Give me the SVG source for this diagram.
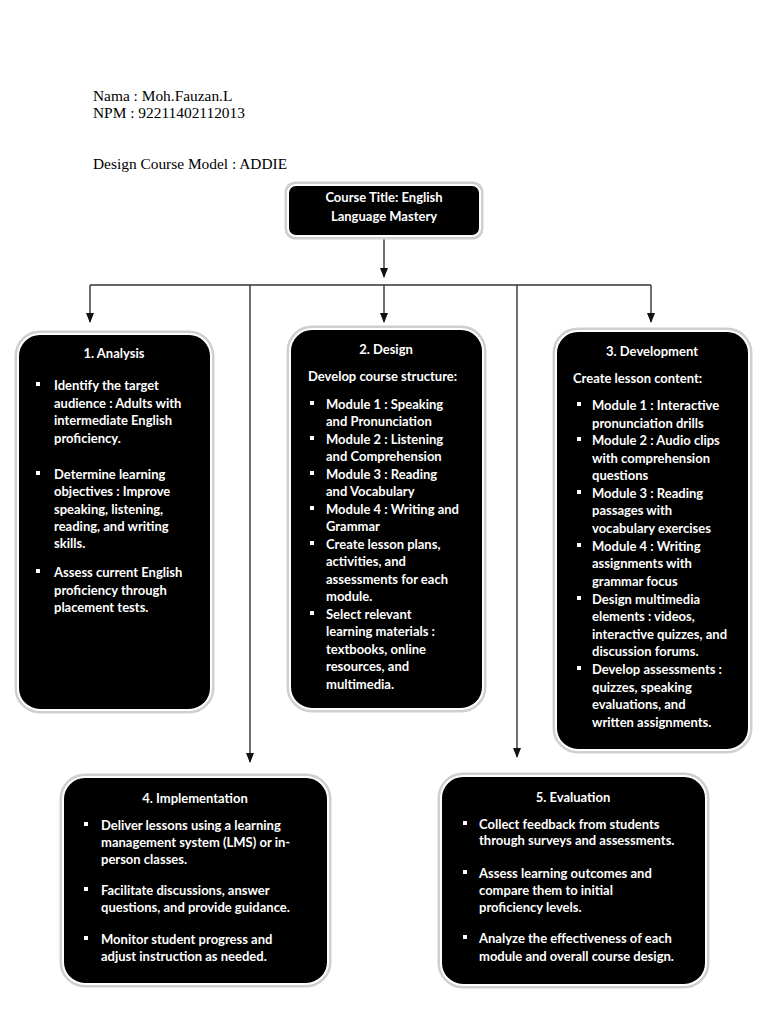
<svg xmlns="http://www.w3.org/2000/svg" width="768" height="1024" viewBox="0 0 768 1024">
<style>
.hdr{font-family:"Liberation Serif",serif;font-size:15.4px;fill:#000}
.box{fill:#000;stroke:#fff;stroke-width:2}
.sh{fill:none;stroke:#cfcfcf;stroke-width:3}
.t{font-family:Lato,"Open Sans",sans-serif;font-weight:bold;font-size:13px;fill:#fff}
.c{text-anchor:middle}
.b{fill:#fff}
.ln{stroke:#333;stroke-width:1.4;fill:none}
.ah{fill:#111}
</style>
<rect width="768" height="1024" fill="#fff"/>
<g id="header">
<text class="hdr" x="93" y="101">Nama : Moh.Fauzan.L</text>
<text class="hdr" x="93" y="118">NPM : 92211402112013</text>
<text class="hdr" x="93" y="169">Design Course Model : ADDIE</text>
</g>
<g id="connectors">
<line class="ln" x1="384" y1="236" x2="384" y2="277"/>
<path class="ah" d="M380,268 L388,268 L384,278 Z"/>
<line class="ln" x1="90" y1="285" x2="651" y2="285"/>
<line class="ln" x1="90" y1="285" x2="90" y2="322"/>
<path class="ah" d="M86,313 L94,313 L90,323 Z"/>
<line class="ln" x1="384" y1="285" x2="384" y2="322"/>
<path class="ah" d="M380,313 L388,313 L384,323 Z"/>
<line class="ln" x1="651" y1="285" x2="651" y2="322"/>
<path class="ah" d="M647,313 L655,313 L651,323 Z"/>
<line class="ln" x1="250" y1="285" x2="250" y2="762"/>
<path class="ah" d="M246,753 L254,753 L250,763 Z"/>
<line class="ln" x1="517" y1="285" x2="517" y2="757"/>
<path class="ah" d="M513,748 L521,748 L517,758 Z"/>
</g>
<g id="title">
<rect class="sh" x="286" y="183" width="196" height="55" rx="9"/>
<rect class="box" x="288" y="185" width="192" height="51" rx="8"/>
<text class="t c" x="384" y="202">Course Title: English</text>
<text class="t c" x="384" y="221">Language Mastery</text>
</g>
<g id="analysis">
<rect class="sh" x="16" y="332" width="197" height="380" rx="24"/>
<rect class="box" x="18" y="334" width="193" height="376" rx="22"/>
<text class="t c" x="114" y="358">1. Analysis</text>
<rect class="b" x="36" y="382" width="4" height="4"/>
<rect class="b" x="36" y="471" width="4" height="4"/>
<rect class="b" x="36" y="569" width="4" height="4"/>
<text class="t" x="54" y="390">Identify the target</text>
<text class="t" x="54" y="408">audience : Adults with</text>
<text class="t" x="54" y="425">intermediate English</text>
<text class="t" x="54" y="443">proficiency.</text>
<text class="t" x="54" y="479">Determine learning</text>
<text class="t" x="54" y="496">objectives : Improve</text>
<text class="t" x="54" y="514">speaking, listening,</text>
<text class="t" x="54" y="531">reading, and writing</text>
<text class="t" x="54" y="548">skills.</text>
<text class="t" x="54" y="577">Assess current English</text>
<text class="t" x="54" y="595">proficiency through</text>
<text class="t" x="54" y="612">placement tests.</text>
</g>
<g id="design">
<rect class="sh" x="288" y="327" width="197" height="384" rx="24"/>
<rect class="box" x="290" y="329" width="193" height="380" rx="22"/>
<text class="t c" x="386" y="354">2. Design</text>
<text class="t" x="308" y="381">Develop course structure:</text>
<rect class="b" x="310" y="401" width="4" height="4"/>
<rect class="b" x="310" y="436" width="4" height="4"/>
<rect class="b" x="310" y="471" width="4" height="4"/>
<rect class="b" x="310" y="506" width="4" height="4"/>
<rect class="b" x="310" y="541" width="4" height="4"/>
<rect class="b" x="310" y="611" width="4" height="4"/>
<text class="t" x="326" y="409">Module 1 : Speaking</text>
<text class="t" x="326" y="426">and Pronunciation</text>
<text class="t" x="326" y="444">Module 2 : Listening</text>
<text class="t" x="326" y="461">and Comprehension</text>
<text class="t" x="326" y="479">Module 3 : Reading</text>
<text class="t" x="326" y="496">and Vocabulary</text>
<text class="t" x="326" y="514">Module 4 : Writing and</text>
<text class="t" x="326" y="531">Grammar</text>
<text class="t" x="326" y="549">Create lesson plans,</text>
<text class="t" x="326" y="566">activities, and</text>
<text class="t" x="326" y="584">assessments for each</text>
<text class="t" x="326" y="601">module.</text>
<text class="t" x="326" y="619">Select relevant</text>
<text class="t" x="326" y="636">learning materials :</text>
<text class="t" x="326" y="654">textbooks, online</text>
<text class="t" x="326" y="671">resources, and</text>
<text class="t" x="326" y="689">multimedia.</text>
</g>
<g id="development">
<rect class="sh" x="554" y="329" width="197" height="423" rx="24"/>
<rect class="box" x="556" y="331" width="193" height="419" rx="22"/>
<text class="t c" x="652" y="356">3. Development</text>
<text class="t" x="573" y="383">Create lesson content:</text>
<rect class="b" x="577" y="402" width="4" height="4"/>
<rect class="b" x="577" y="437" width="4" height="4"/>
<rect class="b" x="577" y="490" width="4" height="4"/>
<rect class="b" x="577" y="543" width="4" height="4"/>
<rect class="b" x="577" y="596" width="4" height="4"/>
<rect class="b" x="577" y="666" width="4" height="4"/>
<text class="t" x="592" y="410">Module 1 : Interactive</text>
<text class="t" x="592" y="428">pronunciation drills</text>
<text class="t" x="592" y="445">Module 2 : Audio clips</text>
<text class="t" x="592" y="463">with comprehension</text>
<text class="t" x="592" y="480">questions</text>
<text class="t" x="592" y="498">Module 3 : Reading</text>
<text class="t" x="592" y="515">passages with</text>
<text class="t" x="592" y="533">vocabulary exercises</text>
<text class="t" x="592" y="551">Module 4 : Writing</text>
<text class="t" x="592" y="568">assignments with</text>
<text class="t" x="592" y="586">grammar focus</text>
<text class="t" x="592" y="604">Design multimedia</text>
<text class="t" x="592" y="621">elements : videos,</text>
<text class="t" x="592" y="639">interactive quizzes, and</text>
<text class="t" x="592" y="656">discussion forums.</text>
<text class="t" x="592" y="674">Develop assessments :</text>
<text class="t" x="592" y="692">quizzes, speaking</text>
<text class="t" x="592" y="709">evaluations, and</text>
<text class="t" x="592" y="727">written assignments.</text>
</g>
<g id="implementation">
<rect class="sh" x="61" y="775" width="269" height="211" rx="24"/>
<rect class="box" x="63" y="777" width="265" height="207" rx="22"/>
<text class="t c" x="195" y="803">4. Implementation</text>
<rect class="b" x="84" y="822" width="4" height="4"/>
<rect class="b" x="84" y="887" width="4" height="4"/>
<rect class="b" x="84" y="936" width="4" height="4"/>
<text class="t" x="101" y="830">Deliver lessons using a learning</text>
<text class="t" x="101" y="847">management system (LMS) or in-</text>
<text class="t" x="101" y="864">person classes.</text>
<text class="t" x="101" y="895">Facilitate discussions, answer</text>
<text class="t" x="101" y="912">questions, and provide guidance.</text>
<text class="t" x="101" y="944">Monitor student progress and</text>
<text class="t" x="101" y="961">adjust instruction as needed.</text>
</g>
<g id="evaluation">
<rect class="sh" x="439" y="774" width="269" height="213" rx="24"/>
<rect class="box" x="441" y="776" width="265" height="209" rx="22"/>
<text class="t c" x="573" y="802">5. Evaluation</text>
<rect class="b" x="463" y="821" width="4" height="4"/>
<rect class="b" x="463" y="870" width="4" height="4"/>
<rect class="b" x="463" y="935" width="4" height="4"/>
<text class="t" x="479" y="829">Collect feedback from students</text>
<text class="t" x="479" y="845">through surveys and assessments.</text>
<text class="t" x="479" y="878">Assess learning outcomes and</text>
<text class="t" x="479" y="895">compare them to initial</text>
<text class="t" x="479" y="912">proficiency levels.</text>
<text class="t" x="479" y="943">Analyze the effectiveness of each</text>
<text class="t" x="479" y="961">module and overall course design.</text>
</g>
</svg>
